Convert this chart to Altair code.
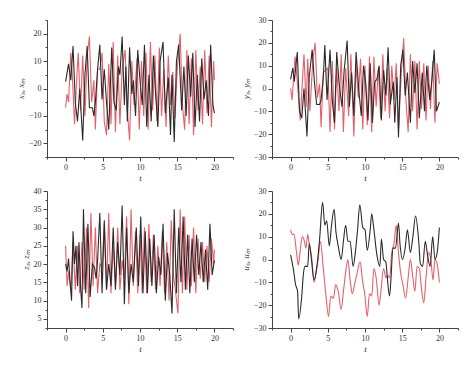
import altair as alt
import pandas as pd

# ---- data (extrema of each series) ----
xs_t = [0.0,0.4,0.7,1.0,1.3,1.6,1.9,2.3,2.6,2.9,3.2,3.6,3.8,4.0,4.3,4.6,4.9,5.2,5.5,5.8,6.2,6.5,6.8,7.1,7.3,7.6,7.9,8.1,8.3,8.6,8.9,9.1,9.4,9.7,10.0,10.3,10.6,10.9,11.2,11.5,11.8,12.1,12.4,12.7,13.1,13.4,13.8,14.1,14.3,14.6,14.9,15.2,15.6,15.9,16.2,16.5,16.8,17.1,17.4,17.7,18.0,18.3,18.6,18.9,19.2,19.5,19.8,20.0]
xs_v = [2.5,9,3,15.5,-5,-12,0,-19,5,15.5,-7,-7,-10,-5,7,16,-4,7,-5,-15,15,-5,-8,8,5,19,-6,8,-12,15,-2,3,-10,14,3,-6,16,-14,5,-12,12,-2,-14,10,17,-9,4,-17,5,-19.5,10,16,-8,8,-10,12,-3,13,-14,5,-12,11,-4,3,-10,16,-6,-9]
xm_t = [0.0,0.2,0.4,0.7,0.9,1.2,1.5,1.7,2.0,2.3,2.6,2.9,3.2,3.5,3.8,4.0,4.3,4.6,4.9,5.2,5.5,5.8,6.1,6.4,6.7,7.0,7.3,7.6,8.0,8.3,8.6,8.9,9.2,9.6,9.9,10.2,10.5,10.8,11.1,11.4,11.7,12.0,12.3,12.6,12.9,13.2,13.5,13.8,14.1,14.4,14.7,15.0,15.4,15.7,16.0,16.3,16.6,16.9,17.2,17.5,17.8,18.1,18.4,18.7,19.0,19.3,19.6,19.9,20.0]
xm_v = [-7,-2,-5,13,5,-13,4,13,-8,12,-10,12,19,-5,3,-15,7,7,13,-12,-17,9,-13,17,-16,12,-13,7,14,-8,-19,10,-6,11,-15,10,-10,13,-15,17,-8,12,-12,15,-10,7,-14,12,-6,6,-11,7,20,-6,-15,14,-13,11,-17,14,-8,8,-13,14,-9,12,-14,10,3]

ys_t = [0.0,0.3,0.5,0.9,1.2,1.5,1.8,2.2,2.5,2.9,3.2,3.5,3.9,4.1,4.4,4.6,4.9,5.3,5.6,5.9,6.2,6.5,6.9,7.2,7.6,7.9,8.2,8.5,8.8,9.2,9.5,9.8,10.1,10.4,10.7,11.0,11.3,11.6,11.9,12.2,12.5,12.8,13.1,13.4,13.8,14.0,14.3,14.5,14.8,15.1,15.4,15.7,16.1,16.4,16.7,17.0,17.3,17.7,18.0,18.3,18.7,19.0,19.3,19.6,20.0]
ys_v = [4,9,3,16,-10,-13,0,-21,5,17,3,-7,-7,-5,5,19,-5,17,-5,-15,16,3,-8,8,21,-8,7,-12,16,-2,-12,10,2,-14,11,-15,3,4,10,-14,8,-3,18,-7,3,-15,5,-21.5,10,17,-3,7,-15,12,-2,11,-13,7,-10,10,-5,4,17,-10,-6]
ym_t = [0.0,0.2,0.6,0.9,1.3,1.6,1.8,2.1,2.3,2.6,3.0,3.3,3.6,3.9,4.1,4.4,4.7,5.0,5.3,5.6,5.9,6.2,6.5,6.8,7.1,7.4,7.8,8.1,8.5,8.8,9.1,9.4,9.7,10.0,10.3,10.6,10.9,11.2,11.5,11.8,12.1,12.4,12.7,13.0,13.3,13.6,13.9,14.2,14.5,14.9,15.2,15.5,15.8,16.1,16.4,16.7,17.0,17.3,17.6,17.9,18.2,18.5,18.8,19.1,19.4,19.7,20.0]
ym_v = [0,-5,14,3,-14,4,15,-8,13,-10,13,20,-4,2,-17,7,8,9,-19,12,-18,9,-10,15,-19,9,-12,15,-21,11,-4,13,-18,10,-16,14,-19,14,-8,9,-13,15,-10,9,-13,10,-5,11,-18,8,22,-5,-19,15,-10,12,-18,12,-9,11,-14,10,-9,12,-15,11,2]

zs_t = [0.0,0.2,0.4,0.6,0.8,1.0,1.2,1.4,1.6,1.8,2.0,2.2,2.4,2.7,3.0,3.3,3.6,3.9,4.1,4.3,4.6,4.9,5.2,5.5,5.8,6.1,6.4,6.7,7.0,7.3,7.6,7.9,8.2,8.5,8.8,9.1,9.5,9.8,10.1,10.4,10.7,11.0,11.3,11.6,11.9,12.2,12.5,12.8,13.1,13.4,13.7,14.0,14.3,14.6,14.9,15.2,15.5,15.8,16.1,16.4,16.7,17.0,17.3,17.6,17.9,18.2,18.5,18.8,19.1,19.4,19.7,20.0]
zs_v = [20,18,21.5,15,10,29,20,25,14,26,14,8,35,12,31,11,20,19,16,21,34,12,32,13,20,14,30,13,26,17,36,9,30,12,20,15,30,14,33,12,29,12,27,14,28,12,22,17,31,10,23,17,6.5,35,12,30,15,33,13,28,12,27,15,28,17,26,15,24,13,31,17,21]
zm_t = [0.0,0.2,0.4,0.7,1.0,1.3,1.6,1.9,2.2,2.5,2.8,3.1,3.4,3.7,4.0,4.3,4.6,4.9,5.2,5.5,5.8,6.1,6.4,6.7,7.0,7.3,7.6,7.9,8.2,8.5,8.8,9.1,9.4,9.7,10.0,10.3,10.6,10.9,11.2,11.5,11.8,12.1,12.4,12.7,13.0,13.3,13.6,13.9,14.2,14.5,14.8,15.1,15.4,15.7,16.0,16.3,16.6,16.9,17.2,17.5,17.8,18.1,18.4,18.7,19.0,19.3,19.6,19.9,20.0]
zm_v = [25,14,18,13,26,13,25,12,26,13,30,8,34,14,30,12,20,19,31,13,34,12,25,14,30,13,21,16,33,9,35,14,29,12,28,12,30,12,31,15,28,13,25,14,29,12,26,10,32,17,12,6.5,35,12,33,13,28,14,30,12,27,16,26,15,25,15,27,20,24]

us_t = [0,0.36,0.67,0.94,1.08,1.5,1.7,1.93,2.3,2.5,2.8,3.15,3.5,3.9,4.3,4.6,4.85,5.2,5.5,5.85,6.1,6.4,6.8,7.1,7.4,7.7,8.0,8.4,8.7,9.0,9.3,9.7,10.0,10.3,10.7,10.9,11.2,11.6,12.0,12.2,12.5,12.8,13.0,13.3,13.5,13.75,14.1,14.5,14.7,15.05,15.4,15.7,16.1,16.4,16.8,17.2,17.45,17.75,18.1,18.4,18.75,19.1,19.4,19.7,20]
us_v = [2,-4,-11,-14,-26,-16,-7,-3,-3,7,0,-9,-4,9,25,15,17,6,15,22,12,6,0,8,15,8,8,-3,3,13,24,14,13,4,13,20,13,2,-3,9,0,-1,-8,-16,-8,5,5,16,7,0,5,13,3,9,19,9,-2,-3,8,2,-3,10,0,3,14]
um_t = [0,0.2,0.45,0.8,1.03,1.26,1.57,1.85,2.07,2.3,2.5,2.83,3.15,3.5,3.7,4.0,4.4,4.76,5.1,5.4,5.75,6.07,6.4,6.8,7.1,7.46,7.7,8.0,8.3,8.6,9.0,9.35,9.66,10.0,10.3,10.6,10.9,11.2,11.5,11.9,12.1,12.5,12.8,13.0,13.3,13.6,13.9,14.2,14.5,14.8,15.1,15.45,15.8,16.1,16.4,16.7,17.0,17.3,17.6,17.9,18.2,18.55,18.85,19.15,19.4,19.7,20]
um_v = [13,11,11,3,-2.5,3,10,8,5,11,7,1,-10,-4,0,8,-4,-16,-25,-16,-17,-11,-14,-22,-14,-4,0,-9,-15,-11,-5,-1,-9,-16,-25,-15,-16,-4,-8,-20,-15,-4,-8,-7,-8,3,7,15,3,-6,-11,-17,-8,0,-7,-14,-3,-4,-13,-19,-8,3,0,-9,0,-2,-10]

BLACK = "#2b2b2b"
RED = "#e4606a"
FONT = "Liberation Serif"


def frame(ts, vs, name):
    return pd.DataFrame({"t": ts, "v": vs, "s": name})


def panel(s_t, s_v, m_t, m_v, ydom, yvals, ylabels_every, ytitle, interp="linear"):
    df = pd.concat([frame(m_t, m_v, "m"), frame(s_t, s_v, "s")])
    return alt.Chart(df).mark_line(strokeWidth=1.1, interpolate=interp, clip=True).encode(
        x=alt.X("t:Q", scale=alt.Scale(domain=[-2.5, 22.5], nice=False, zero=False),
                axis=alt.Axis(values=[-2.5, 0, 2.5, 5, 7.5, 10, 12.5, 15, 17.5, 20, 22.5],
                              labelExpr="datum.value % 5 == 0 ? datum.label : ''",
                              tickSize={"condition": {"test": "datum.value % 5 == 0", "value": 4}, "value": 2},
                              title="t")),
        y=alt.Y("v:Q", scale=alt.Scale(domain=ydom, nice=False, zero=False),
                axis=alt.Axis(values=yvals,
                              labelExpr=f"datum.value % {ylabels_every} == 0 ? datum.label : ''",
                              tickSize={"condition": {"test": f"datum.value % {ylabels_every} == 0", "value": 4}, "value": 2},
                              title=ytitle)),
        color=alt.Color("s:N", scale=alt.Scale(domain=["s", "m"], range=[BLACK, RED]), legend=None),
        order=alt.Order("s:N", sort="descending"),
        detail="s:N",
    ).properties(width=186, height=137)


p1 = panel(xs_t, xs_v, xm_t, xm_v, [-25, 25], [-25, -20, -15, -10, -5, 0, 5, 10, 15, 20, 25], 10, "xₛ, xₘ")
p2 = panel(ys_t, ys_v, ym_t, ym_v, [-30, 30], list(range(-30, 31, 5)), 10, "yₛ, yₘ")
p3 = panel(zs_t, zs_v, zm_t, zm_v, [2.5, 40], [2.5, 5, 7.5, 10, 12.5, 15, 17.5, 20, 22.5, 25, 27.5, 30, 32.5, 35, 37.5, 40], 5, "zₛ, zₘ")
p4 = panel(us_t, us_v, um_t, um_v, [-30, 30], list(range(-30, 31, 5)), 10, "uₛ, uₘ", interp="monotone")

chart = alt.concat(p1, p2, p3, p4, columns=2, spacing={"row": 34, "column": 39}, bounds="flush").properties(
    padding={"left": 8, "top": 8, "right": 5, "bottom": 5}
).configure_view(stroke=None).configure_axis(
    grid=False,
    domainColor="#444",
    tickColor="#444",
    labelFont=FONT,
    labelFontSize=8,
    labelColor="#333",
    titleFont=FONT,
    titleFontSize=9,
    titleFontStyle="italic",
    titleFontWeight="normal",
    titleColor="#333",
    labelPadding=2,
).configure_axisY(titlePadding=3).configure_axisX(titlePadding=2)

chart.save("out.html", embed_options={"renderer": "svg", "actions": False})
